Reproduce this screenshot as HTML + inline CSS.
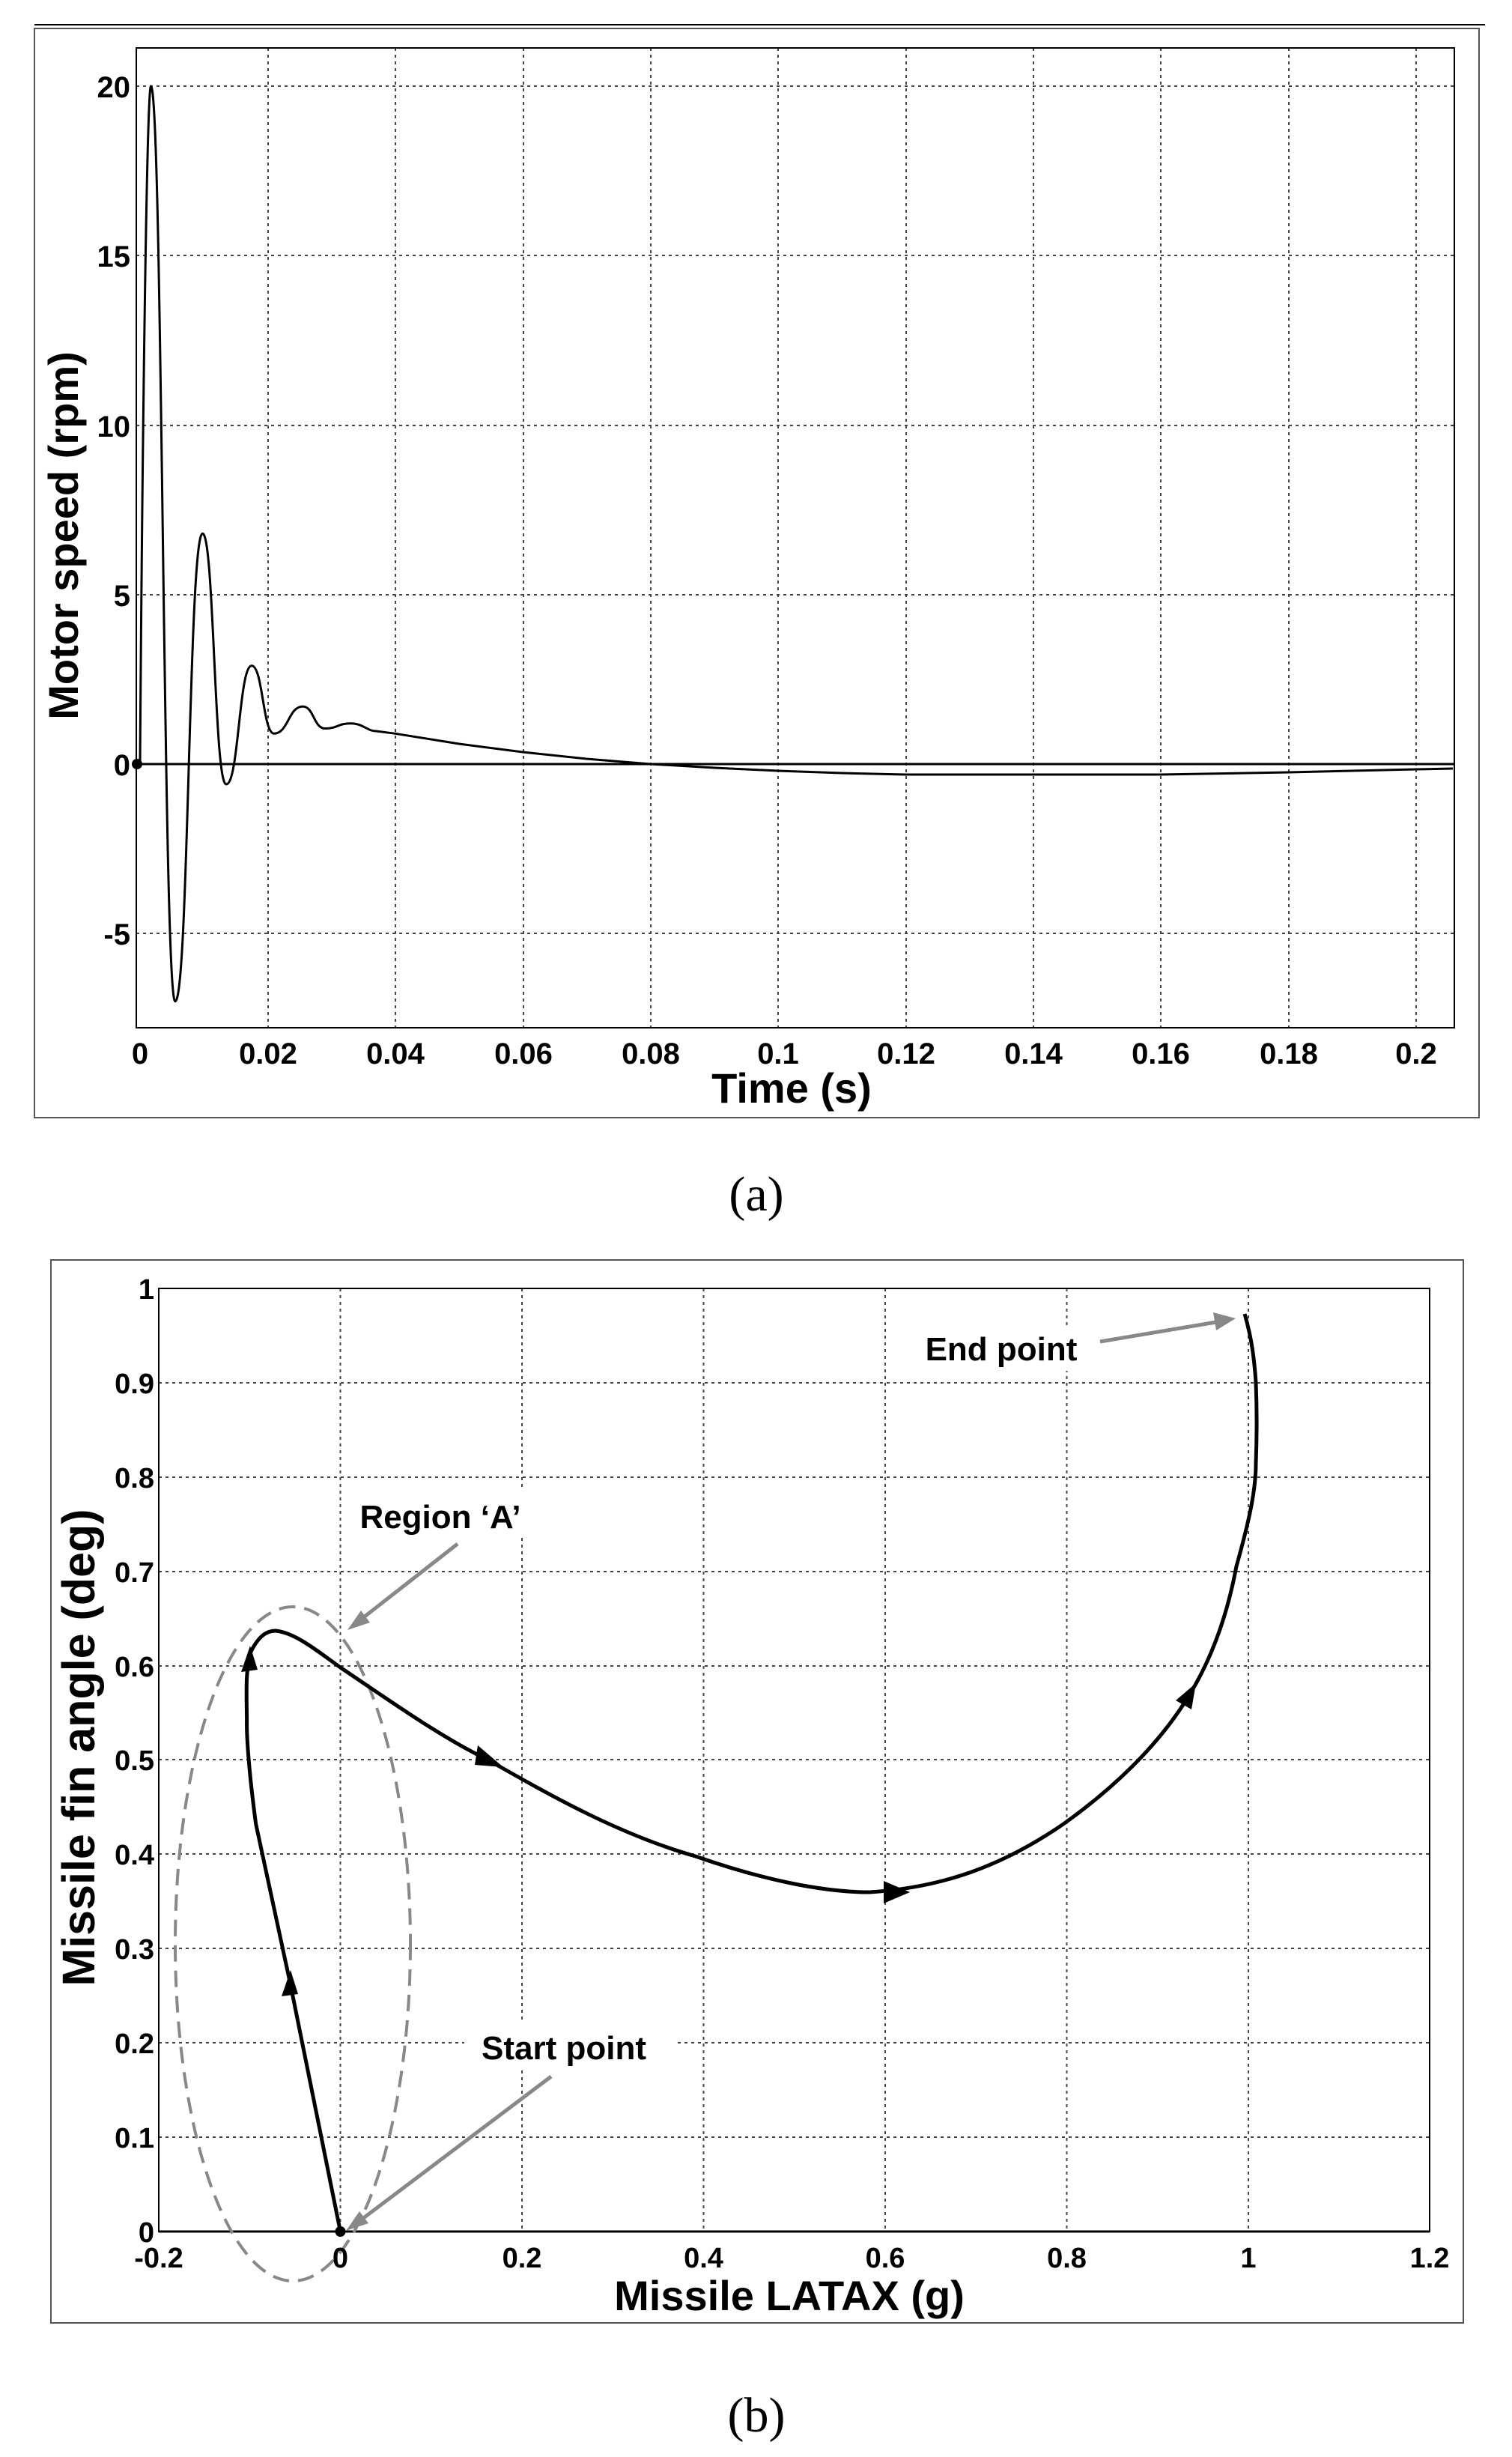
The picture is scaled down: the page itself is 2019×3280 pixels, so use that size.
<!DOCTYPE html>
<html><head><meta charset="utf-8"><style>
html,body{margin:0;padding:0;background:#fff;}
svg{display:block}
text{font-family:"Liberation Sans",Arial,sans-serif;font-weight:bold;fill:#000}
.s{font-family:"Liberation Serif",serif;font-weight:normal}
</style></head><body>
<svg width="2019" height="3280" viewBox="0 0 2019 3280" xmlns="http://www.w3.org/2000/svg">
<rect width="2019" height="3280" fill="#fff"/>
<line x1="46" y1="33" x2="1983" y2="33" stroke="#000" stroke-width="2"/>
<!-- Chart a -->
<rect x="46" y="38" width="1929" height="1454" fill="none" stroke="#555" stroke-width="2"/>
<g stroke="#444" stroke-width="2" stroke-dasharray="4,5">
<line x1="358" y1="64" x2="358" y2="1372"/><line x1="528" y1="64" x2="528" y2="1372"/>
<line x1="699" y1="64" x2="699" y2="1372"/><line x1="869" y1="64" x2="869" y2="1372"/>
<line x1="1039" y1="64" x2="1039" y2="1372"/><line x1="1210" y1="64" x2="1210" y2="1372"/>
<line x1="1380" y1="64" x2="1380" y2="1372"/><line x1="1550" y1="64" x2="1550" y2="1372"/>
<line x1="1721" y1="64" x2="1721" y2="1372"/><line x1="1891" y1="64" x2="1891" y2="1372"/>
<line x1="182" y1="115" x2="1942" y2="115"/><line x1="182" y1="341" x2="1942" y2="341"/>
<line x1="182" y1="568" x2="1942" y2="568"/><line x1="182" y1="794" x2="1942" y2="794"/>
<line x1="182" y1="1246" x2="1942" y2="1246"/>
</g>
<rect x="182" y="64" width="1760" height="1308" fill="none" stroke="#000" stroke-width="2"/>
<line x1="182" y1="1020" x2="1942" y2="1020" stroke="#000" stroke-width="3"/>
<path d="M187,1020 C190,600 196,115 201.5,115 C217,115 218,1336.8 233.9,1336.8 C252,1336.8 252,712.3 270.5,712.3 C286,712.3 286,1047 302,1047 C319,1047 319,888.8 336.1,888.8 C351,888.8 351,979.3 365.9,979.3 C385,979.3 385,943.1 404.3,943.1 C419,943.1 419,972.5 434.1,972.5 C451,972.5 451,965.7 468.2,965.7 C485,965.7 490,976 502.2,976 L527.8,979.3 L613,993 L698,1004 L783,1013 L869,1020 L954,1025 L1039,1029 L1124,1032 L1209,1034 L1380,1034 L1550,1034 L1721,1031 L1891,1027 L1940,1026" fill="none" stroke="#000" stroke-width="3"/>
<circle cx="183" cy="1020" r="7" fill="#000"/>
<g font-size="40" text-anchor="end">
<text x="174" y="130">20</text><text x="174" y="356">15</text><text x="174" y="583">10</text>
<text x="174" y="809">5</text><text x="174" y="1035">0</text><text x="174" y="1261">-5</text>
</g>
<g font-size="40" text-anchor="middle">
<text x="187" y="1420">0</text><text x="358" y="1420">0.02</text><text x="528" y="1420">0.04</text>
<text x="699" y="1420">0.06</text><text x="869" y="1420">0.08</text><text x="1039" y="1420">0.1</text>
<text x="1210" y="1420">0.12</text><text x="1380" y="1420">0.14</text><text x="1550" y="1420">0.16</text>
<text x="1721" y="1420">0.18</text><text x="1891" y="1420">0.2</text>
</g>
<text x="1057" y="1472" font-size="56" text-anchor="middle">Time (s)</text>
<text transform="translate(104,715) rotate(-90)" font-size="56" text-anchor="middle">Motor speed (rpm)</text>
<text class="s" x="1010" y="1616" font-size="66" text-anchor="middle">(a)</text>
<!-- Chart b -->
<rect x="68" y="1682" width="1886" height="1419" fill="none" stroke="#555" stroke-width="2"/>
<g stroke="#444" stroke-width="2" stroke-dasharray="4,5">
<line x1="454.5" y1="1720" x2="454.5" y2="2979"/><line x1="697" y1="1720" x2="697" y2="2979"/>
<line x1="939.5" y1="1720" x2="939.5" y2="2979"/><line x1="1182" y1="1720" x2="1182" y2="2979"/>
<line x1="1424.5" y1="1720" x2="1424.5" y2="2979"/><line x1="1667" y1="1720" x2="1667" y2="2979"/>
<line x1="212" y1="1846" x2="1909" y2="1846"/><line x1="212" y1="1972" x2="1909" y2="1972"/>
<line x1="212" y1="2098" x2="1909" y2="2098"/><line x1="212" y1="2224" x2="1909" y2="2224"/>
<line x1="212" y1="2349" x2="1909" y2="2349"/><line x1="212" y1="2475" x2="1909" y2="2475"/>
<line x1="212" y1="2601" x2="1909" y2="2601"/><line x1="212" y1="2727" x2="1909" y2="2727"/>
<line x1="212" y1="2853" x2="1909" y2="2853"/>
</g>
<rect x="212" y="1720" width="1697" height="1259" fill="none" stroke="#000" stroke-width="2"/>
<line x1="212" y1="2979" x2="1909" y2="2979" stroke="#000" stroke-width="3"/>
<rect x="470" y="1990" width="236" height="60" fill="#fff"/>
<rect x="620" y="2700" width="280" height="60" fill="#fff"/>
<rect x="1220" y="1770" width="240" height="60" fill="#fff"/>
<ellipse cx="391" cy="2595" rx="157" ry="450" fill="none" stroke="#888" stroke-width="4" stroke-dasharray="22,12"/>
<path d="M454.5,2979 L387.8,2649 L341.7,2435 C333,2370 329,2320 329.6,2295 C329,2250 328,2230 335,2205 C345,2185 355,2177 368.4,2177 C395,2180 425,2205 454.5,2226 C520,2270 590,2320 652,2349.5 C740,2400 830,2450 928.6,2478 C1020,2510 1100,2526 1161,2526 C1260,2520 1340,2490 1420,2435 C1490,2385 1545,2330 1581,2274 C1620,2215 1640,2150 1651,2091 C1668,2030 1677,1990 1677,1953 C1679,1900 1678,1870 1677,1846 C1674,1800 1668,1775 1662,1754" fill="none" stroke="#000" stroke-width="5" stroke-linejoin="round"/>
<g fill="#000">
<polygon points="388,2630 376,2665 398,2662"/>
<polygon points="334,2197 322,2232 344,2229"/>
<polygon points="672,2359 638,2330 634,2356"/>
<polygon points="1215,2526 1180,2511 1180,2541"/>
<polygon points="1597,2247 1570,2270 1591,2282"/>
<circle cx="454.5" cy="2979" r="7"/>
</g>
<g stroke="#888" stroke-width="5" fill="#888">
<line x1="611" y1="2061" x2="478" y2="2165"/>
<polygon points="464,2176 482,2150 494,2166" stroke="none"/>
<line x1="736" y1="2772" x2="476" y2="2968"/>
<polygon points="462,2978 480,2952 492,2968" stroke="none"/>
<line x1="1469" y1="1791" x2="1630" y2="1764"/>
<polygon points="1650,1760 1620,1752 1624,1776" stroke="none"/>
</g>
<text x="588" y="2040" font-size="44" text-anchor="middle">Region ‘A’</text>
<text x="753" y="2749" font-size="44" text-anchor="middle">Start point</text>
<text x="1337" y="1816" font-size="44" text-anchor="middle">End point</text>
<g font-size="38" text-anchor="end">
<text x="206" y="1734">1</text><text x="206" y="1860">0.9</text><text x="206" y="1986">0.8</text>
<text x="206" y="2112">0.7</text><text x="206" y="2238">0.6</text><text x="206" y="2363">0.5</text>
<text x="206" y="2489">0.4</text><text x="206" y="2615">0.3</text><text x="206" y="2741">0.2</text>
<text x="206" y="2867">0.1</text><text x="206" y="2993">0</text>
</g>
<g font-size="38" text-anchor="middle">
<text x="212" y="3027">-0.2</text><text x="454.5" y="3027">0</text><text x="697" y="3027">0.2</text>
<text x="939.5" y="3027">0.4</text><text x="1182" y="3027">0.6</text><text x="1424.5" y="3027">0.8</text>
<text x="1667" y="3027">1</text><text x="1909" y="3027">1.2</text>
</g>
<text x="1054" y="3084" font-size="56" text-anchor="middle">Missile LATAX (g)</text>
<text transform="translate(126,2333) rotate(-90)" font-size="61" text-anchor="middle">Missile fin angle (deg)</text>
<text class="s" x="1010" y="3246" font-size="66" text-anchor="middle">(b)</text>
</svg>
</body></html>
